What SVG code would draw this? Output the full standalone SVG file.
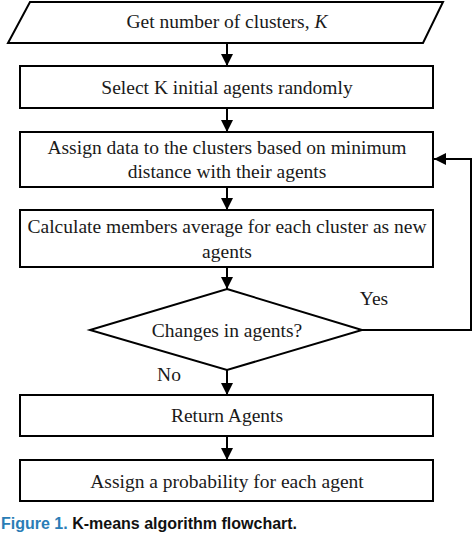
<svg xmlns="http://www.w3.org/2000/svg" width="474" height="534" viewBox="0 0 474 534">
<style>
.n{fill:#fff;stroke:#000;stroke-width:2}
.t{font-family:"Liberation Serif","Times New Roman",serif;font-size:19.5px;fill:#1a1a1a;text-anchor:middle}
.c{fill:none;stroke:#000;stroke-width:2}
.cap{font-family:"Liberation Sans",Arial,sans-serif;font-size:16px;font-weight:bold}
</style>
<defs>
<marker id="ah" markerWidth="12" markerHeight="12" refX="10" refY="5" orient="auto" markerUnits="userSpaceOnUse" viewBox="0 0 10 10">
<path d="M0,0 L10,5 L0,10 Z" fill="#000"/>
</marker>
</defs>
<rect width="474" height="534" fill="#fff"/>
<g id="connectors">
<line class="c" x1="227" y1="43" x2="227" y2="66" marker-end="url(#ah)"/>
<line class="c" x1="227" y1="108" x2="227" y2="132" marker-end="url(#ah)"/>
<line class="c" x1="227" y1="187" x2="227" y2="210" marker-end="url(#ah)"/>
<line class="c" x1="227" y1="267" x2="227" y2="289" marker-end="url(#ah)"/>
<line class="c" x1="227" y1="370" x2="227" y2="395" marker-end="url(#ah)"/>
<line class="c" x1="227" y1="436" x2="227" y2="460" marker-end="url(#ah)"/>
<polyline class="c" points="362,330 471,330 471,159 434,159" marker-end="url(#ah)"/>
<text class="t" x="374" y="305">Yes</text>
<text class="t" x="169" y="381">No</text>
</g>
<g id="input">
<polygon class="n" points="30,2 443,2 423,43 8,43"/>
<text class="t" x="227" y="28">Get number of clusters, <tspan font-style="italic">K</tspan></text>
</g>
<g id="select">
<rect class="n" x="20" y="66" width="413" height="42"/>
<text class="t" x="227" y="94">Select K initial agents randomly</text>
</g>
<g id="assign">
<rect class="n" x="20" y="132" width="413" height="55"/>
<text class="t" x="227" y="154">Assign data to the clusters based on minimum</text>
<text class="t" x="227" y="178">distance with their agents</text>
</g>
<g id="calculate">
<rect class="n" x="20" y="210" width="413" height="57"/>
<text class="t" x="227" y="233">Calculate members average for each cluster as new</text>
<text class="t" x="227" y="258">agents</text>
</g>
<g id="decision">
<polygon class="n" points="227,289 362,330 227,370 90,330"/>
<text class="t" x="227" y="337">Changes in agents?</text>
</g>
<g id="return">
<rect class="n" x="20" y="395" width="413" height="41"/>
<text class="t" x="227" y="422">Return Agents</text>
</g>
<g id="probability">
<rect class="n" x="20" y="460" width="413" height="41"/>
<text class="t" x="227" y="488">Assign a probability for each agent</text>
</g>
<text class="cap" x="1" y="529"><tspan fill="#2a7db6">Figure 1.</tspan><tspan fill="#111"> K-means algorithm flowchart.</tspan></text>
</svg>
